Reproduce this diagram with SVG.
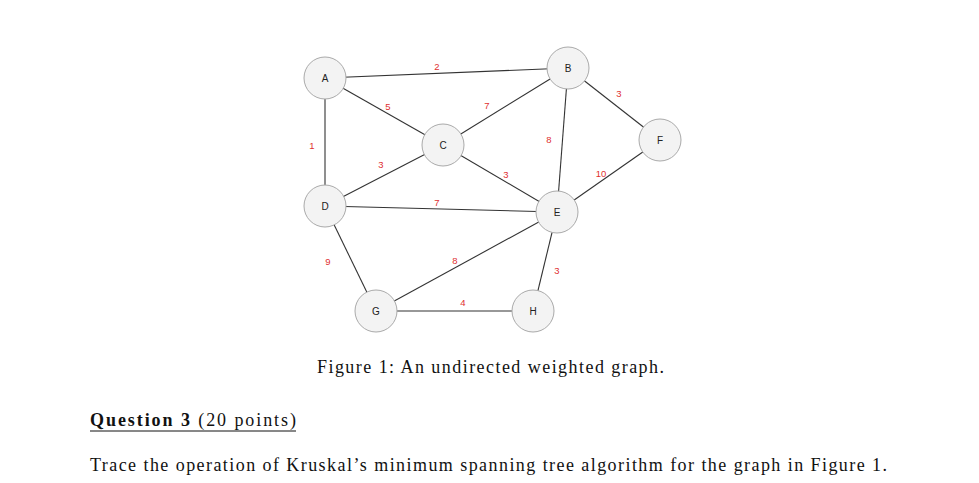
<svg xmlns="http://www.w3.org/2000/svg" width="979" height="483" viewBox="0 0 979 483">
<style>
.n circle{fill:#f3f3f3;stroke:#aaa;stroke-width:1}
.n text{font-family:"Liberation Sans",Arial,sans-serif;font-size:10px;text-anchor:middle;fill:#222}
.e line{stroke:#333;stroke-width:1.1}
.w{font-family:"Liberation Sans",Arial,sans-serif;font-size:9.5px;fill:#e03030;text-anchor:middle}
.t{font-family:"Liberation Serif","Times New Roman",serif;fill:#111}
</style>
<rect width="979" height="483" fill="#fff"/>
<g id="edges" class="e">
<line x1="325" y1="78" x2="568" y2="68"/>
<line x1="325" y1="78" x2="443" y2="145"/>
<line x1="325" y1="78" x2="325" y2="206"/>
<line x1="568" y1="68" x2="443" y2="145"/>
<line x1="568" y1="68" x2="660" y2="140"/>
<line x1="568" y1="68" x2="557" y2="212"/>
<line x1="443" y1="145" x2="325" y2="206"/>
<line x1="443" y1="145" x2="557" y2="212"/>
<line x1="660" y1="140" x2="557" y2="212"/>
<line x1="325" y1="206" x2="557" y2="212"/>
<line x1="325" y1="206" x2="376" y2="311"/>
<line x1="557" y1="212" x2="376" y2="311"/>
<line x1="557" y1="212" x2="533" y2="311"/>
<line x1="376" y1="311" x2="533" y2="311"/>
</g>
<g id="weights">
<text class="w" x="437" y="70">2</text>
<text class="w" x="388" y="110">5</text>
<text class="w" x="487" y="109">7</text>
<text class="w" x="619" y="97">3</text>
<text class="w" x="549" y="143">8</text>
<text class="w" x="312" y="149">1</text>
<text class="w" x="381" y="168">3</text>
<text class="w" x="506" y="178">3</text>
<text class="w" x="601" y="177">10</text>
<text class="w" x="437" y="206">7</text>
<text class="w" x="328" y="265">9</text>
<text class="w" x="455" y="264">8</text>
<text class="w" x="557" y="274">3</text>
<text class="w" x="463" y="306">4</text>
</g>
<g id="A" class="n"><circle cx="325" cy="78" r="21"/><text x="325" y="82">A</text></g>
<g id="B" class="n"><circle cx="568" cy="68" r="21"/><text x="568" y="72">B</text></g>
<g id="C" class="n"><circle cx="443" cy="145" r="21"/><text x="443" y="149">C</text></g>
<g id="F" class="n"><circle cx="660" cy="140" r="21"/><text x="660" y="144">F</text></g>
<g id="D" class="n"><circle cx="325" cy="206" r="21"/><text x="325" y="210">D</text></g>
<g id="E" class="n"><circle cx="557" cy="212" r="21"/><text x="557" y="216">E</text></g>
<g id="G" class="n"><circle cx="376" cy="311" r="21"/><text x="376" y="315">G</text></g>
<g id="H" class="n"><circle cx="533" cy="311" r="21"/><text x="533" y="315">H</text></g>
<text class="t" x="317" y="373" font-size="18" textLength="347" lengthAdjust="spacing">Figure 1: An undirected weighted graph.</text>
<text class="t" x="90" y="426" font-size="18" textLength="206" lengthAdjust="spacing"><tspan font-weight="bold">Question 3</tspan> (20 points)</text>
<line x1="90" y1="431" x2="296" y2="431" stroke="#111" stroke-width="1"/>
<text class="t" x="90" y="471" font-size="18" textLength="797" lengthAdjust="spacing">Trace the operation of Kruskal’s minimum spanning tree algorithm for the graph in Figure 1.</text>
</svg>
